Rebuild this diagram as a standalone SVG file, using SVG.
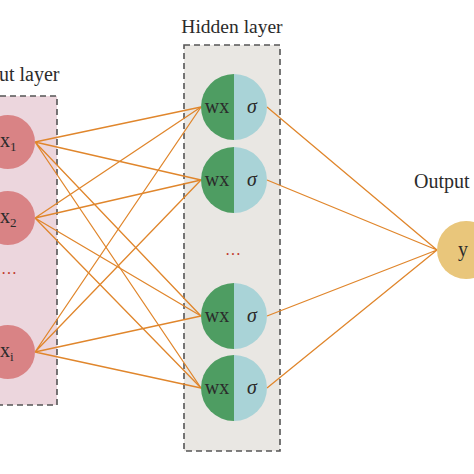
<svg xmlns="http://www.w3.org/2000/svg" width="474" height="474" viewBox="0 0 474 474">
<style>
.t{font-family:"Liberation Serif","DejaVu Serif",serif;fill:#2b2b2b}
.c{stroke:#e0862c;stroke-width:1.3;fill:none}
.box{stroke:#555;stroke-width:1.6;stroke-dasharray:6,4}
.in{fill:#d98385}
.g{fill:#4e9d62}
.b{fill:#a9d3d7}
.dots{font-family:"Liberation Serif",serif;fill:#c0392b;font-size:16px}
</style>
<rect width="474" height="474" fill="#fff"/>
<rect class="box" x="-10" y="96" width="67" height="309" fill="#ecd6dd"/>
<rect class="box" x="184" y="45" width="96" height="406" fill="#e9e7e3"/>
<text class="t" x="-1" y="81" font-size="20">ut layer</text>
<text class="t" x="232" y="33" font-size="19.5" text-anchor="middle">Hidden layer</text>
<text class="t" x="414" y="188" font-size="20">Output</text>
<g id="connectors">
<path class="c" d="M35,142L201,107M35,142L201,180M35,142L201,316M35,142L201,388"/>
<path class="c" d="M35,218L201,107M35,218L201,180M35,218L201,316M35,218L201,388"/>
<path class="c" d="M35,352L201,107M35,352L201,180M35,352L201,316M35,352L201,388"/>
<path class="c" d="M267,107L437,250M267,180L437,250M267,316L437,250M267,388L437,250"/>
</g>
<g id="x1"><circle class="in" cx="8" cy="142" r="27"/><text class="t" x="0" y="147" font-size="20">x<tspan font-size="13" dy="4">1</tspan></text></g>
<g id="x2"><circle class="in" cx="8" cy="218" r="27"/><text class="t" x="0" y="223" font-size="20">x<tspan font-size="13" dy="4">2</tspan></text></g>
<text class="dots" x="1" y="274">…</text>
<g id="xi"><circle class="in" cx="8" cy="352" r="27"/><text class="t" x="0" y="357" font-size="20">x<tspan font-size="13" dy="4">i</tspan></text></g>
<g id="h1"><path class="g" d="M234,74A33,33 0 0 0 234,140Z"/><path class="b" d="M234,74A33,33 0 0 1 234,140Z"/><text class="t" x="217" y="113" font-size="20" text-anchor="middle">wx</text><text class="t" x="252" y="113" font-size="20" font-style="italic" text-anchor="middle">σ</text></g>
<g id="h2"><path class="g" d="M234,147A33,33 0 0 0 234,213Z"/><path class="b" d="M234,147A33,33 0 0 1 234,213Z"/><text class="t" x="217" y="186" font-size="20" text-anchor="middle">wx</text><text class="t" x="252" y="186" font-size="20" font-style="italic" text-anchor="middle">σ</text></g>
<text class="dots" x="233" y="255" text-anchor="middle">…</text>
<g id="h3"><path class="g" d="M234,283A33,33 0 0 0 234,349Z"/><path class="b" d="M234,283A33,33 0 0 1 234,349Z"/><text class="t" x="217" y="322" font-size="20" text-anchor="middle">wx</text><text class="t" x="252" y="322" font-size="20" font-style="italic" text-anchor="middle">σ</text></g>
<g id="h4"><path class="g" d="M234,355A33,33 0 0 0 234,421Z"/><path class="b" d="M234,355A33,33 0 0 1 234,421Z"/><text class="t" x="217" y="394" font-size="20" text-anchor="middle">wx</text><text class="t" x="252" y="394" font-size="20" font-style="italic" text-anchor="middle">σ</text></g>
<g id="y"><circle cx="466" cy="250" r="29" fill="#e9c67b"/><text class="t" x="463" y="256" font-size="20" text-anchor="middle">y</text></g>
</svg>
